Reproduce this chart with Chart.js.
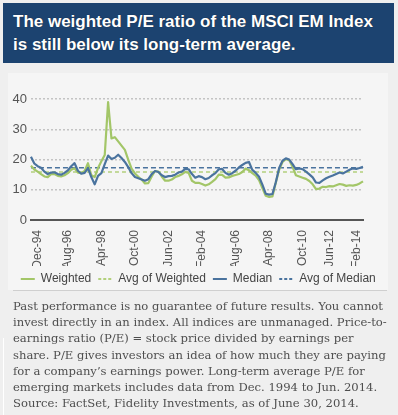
<!DOCTYPE html>
<html>
<head>
<meta charset="utf-8">
<script src="https://cdn.jsdelivr.net/npm/chart.js@4/dist/chart.umd.min.js"></script>
<style>
  body { margin: 0; width: 398px; height: 415px; background: #efefef; position: relative; overflow: hidden; }
  #title { position: absolute; left: 3px; top: 3px; width: 371px; height: 50px; padding: 7px 10px 3px 10px;
    background: #1c4370; color: #fff; font: bold 17px "Liberation Sans", Arial, sans-serif; line-height: 23px;
    text-shadow: 0 0 1px rgba(0,0,0,0.6); }
  #panel { position: absolute; left: 8px; top: 73px; width: 380px; height: 217px; background: #f5f5f5; }
  #myChart { position: absolute; left: 8px; top: 73px; }
  #rule { position: absolute; left: 13px; top: 290px; width: 374px; height: 0; border-top: 1px solid #cfcfcf; }
  #note { position: absolute; left: 13px; top: 298px; font: 11.6px "DejaVu Serif", serif; line-height: 16.2px;
    color: #4e4e4e; white-space: nowrap; }
  #edge { position: absolute; left: 3px; top: 338px; width: 1px; height: 77px; background: #fff; }
</style>
</head>
<body>
<div id="title">The weighted P/E ratio of the MSCI EM Index<br>is still below its long-term average.</div>
<div id="panel"></div>
<canvas id="myChart" width="380" height="222"></canvas>
<div id="rule"></div>
<div id="edge"></div>
<div id="note">
Past performance is no guarantee of future results. You cannot<br>
invest directly in an index. All indices are unmanaged. Price-to-<br>
earnings ratio (P/E) = stock price divided by earnings per<br>
share. P/E gives investors an idea of how much they are paying<br>
for a company’s earnings power. Long-term average P/E for<br>
emerging markets includes data from Dec. 1994 to Jun. 2014.<br>
Source: FactSet, Fidelity Investments, as of June 30, 2014.
</div>
<script>
// tick labels and where they sit along the series
const tickLabels = ['Dec-94', 'Aug-96', 'Apr-98', 'Oct-00', 'Jun-02', 'Feb-04', 'Aug-06', 'Apr-08', 'Oct-10', 'Jun-12', 'Feb-14'];
const tickIndex = [2, 11, 21, 31, 41, 51, 61, 71, 81, 89, 97];
const yTicks = [0, 5, 10, 15, 20, 25, 30, 35, 40, 45];

// P/E values
const weighted = [
  18, 16.7, 16, 15.2, 14.4, 14.2, 15.2, 15.2, 14.6, 14.4,
  14.8, 15.5, 16.6, 17.1, 15.7, 15.5, 16.2, 18.8, 14.8, 14.2,
  17.2, 19.4, 21.5, 39, 27, 27.4, 26, 24.6, 23.2, 20,
  17, 15.4, 14.3, 13.4, 12.1, 12.2, 14.4, 16.2, 16, 14.4,
  13, 13, 13.4, 14.2, 14.6, 15.1, 15.9, 15.6, 13, 12.3,
  12.3, 11.9, 11.4, 11.8, 12.6, 13.5, 15, 14.9, 14, 14.1,
  14.6, 14.9, 15.2, 15.9, 17, 16.5, 15.5, 14.7, 13.2, 10.6,
  8, 7.6, 7.8, 12.3, 16.6, 19.2, 20.1, 19.8, 17.6, 14.8,
  14.4, 14, 13.6, 12.9, 11.8, 10.2, 10.4, 11, 10.9, 11.2,
  11.1, 11.5, 11.9, 11.7, 11.3, 11.5, 11.4, 11.6, 12.1, 12.8
];
const median = [
  20.9, 18.7, 17.8, 17.3, 16, 15.2, 15.7, 15.8, 15.2, 15,
  15.6, 16.4, 17.8, 18.8, 16.3, 15.3, 15.6, 17.2, 14.2, 11.8,
  14.6, 15.5, 18.5, 21.3, 20.2, 20.6, 21.6, 20.5, 19.2, 17.5,
  15.5, 14.2, 13.8, 13.4, 13, 13.5, 15.2, 16.2, 15.9, 14.8,
  14.2, 14.5, 14.6, 15, 15.7, 16, 16.9, 16.8, 15.2, 14,
  14.5, 14.2, 13.5, 13.9, 14.8, 15.5, 16.8, 16.9, 15.6, 15,
  15.5, 16.3, 17.4, 18.2, 18.9, 19.2, 16.6, 15.6, 14.3, 11.7,
  8.7, 8.4, 8.6, 12.5, 17.2, 19.6, 20.4, 20, 18.5, 16.8,
  17.1, 16.8, 16, 15.1, 14.1, 12.4, 12.3, 13.1, 13.8, 14.3,
  14.7, 15.2, 15.7, 15.4, 16, 16.6, 17.1, 16.9, 17.2, 17.6
];
const avgWeighted = 15.9;
const avgMedian = 17.3;

const labels = weighted.map(function (v, i) {
  const k = tickIndex.indexOf(i);
  return k >= 0 ? tickLabels[k] : '';
});

const green = '#a3c668';
const blue = '#4a739e';
const sans = '"Liberation Sans", Arial, sans-serif';

const ctx = document.getElementById('myChart').getContext('2d');
const myChart = new Chart(ctx, {
  type: 'line',
  data: {
    labels: labels,
    datasets: [{
      label: 'Weighted',
      data: weighted,
      borderColor: green,
      borderWidth: 2.2,
      order: 1
    }, {
      label: 'Avg of Weighted',
      data: labels.map(function () { return avgWeighted; }),
      borderColor: '#b3d07c',
      borderWidth: 1.5,
      borderDash: [4, 3],
      order: 3
    }, {
      label: 'Median',
      data: median,
      borderColor: blue,
      borderWidth: 2.2,
      order: 0
    }, {
      label: 'Avg of Median',
      data: labels.map(function () { return avgMedian; }),
      borderColor: blue,
      borderWidth: 1.5,
      borderDash: [5, 3],
      order: 2
    }]
  },
  options: {
    responsive: false,
    animation: false,
    events: [],
    elements: {
      point: { radius: 0 },
      line: { tension: 0, borderJoinStyle: 'round' }
    },
    layout: {
      padding: { left: 0.5, right: 0, top: 11, bottom: 0 }
    },
    plugins: {
      tooltip: { enabled: false },
      legend: {
        position: 'bottom',
        labels: {
          usePointStyle: true,
          pointStyle: 'line',
          pointStyleWidth: 14,
          boxHeight: 12,
          padding: 7,
          color: '#444',
          font: { family: sans, size: 12 },
          sort: function (a, b) { return a.datasetIndex - b.datasetIndex; },
          // point style legend drops the dash, put it back from the dataset
          generateLabels: function (chart) {
            const items = Chart.defaults.plugins.legend.labels.generateLabels(chart);
            items.forEach(function (it) {
              const ds = chart.data.datasets[it.datasetIndex];
              it.lineDash = ds.borderDash ? [3, 2] : [];
              it.lineWidth = 2;
              it.strokeStyle = ds.borderColor;
            });
            return items;
          }
        }
      }
    },
    scales: {
      x: {
        grid: { display: false },
        border: { display: true, color: '#555', width: 2 },
        ticks: {
          autoSkip: false,
          maxRotation: 90,
          minRotation: 90,
          padding: 2,
          color: '#555',
          font: { family: sans, size: 12 }
        },
        afterFit: function (s) { s.height = 46; }
      },
      y: {
        min: 0,
        max: 45,
        grid: { color: '#c4c4c4', lineWidth: 1.5, drawTicks: false },
        border: { display: false, dash: [2, 2] },
        ticks: {
          stepSize: 5,
          padding: 4,
          color: '#555',
          font: { family: sans, size: 13, lineHeight: 1 }
        },
        // short axis would thin the ticks out, keep every 5
        afterBuildTicks: function (s) {
          s.ticks = yTicks.map(function (v) { return { value: v }; });
        }
      },
      // empty right axis, only keeps the plot clear of the right edge
      y2: {
        position: 'right',
        min: 0,
        max: 45,
        grid: { display: false },
        border: { display: false },
        ticks: { display: false },
        afterFit: function (s) { s.width = 25; }
      }
    }
  }
});
</script>
</body>
</html>
